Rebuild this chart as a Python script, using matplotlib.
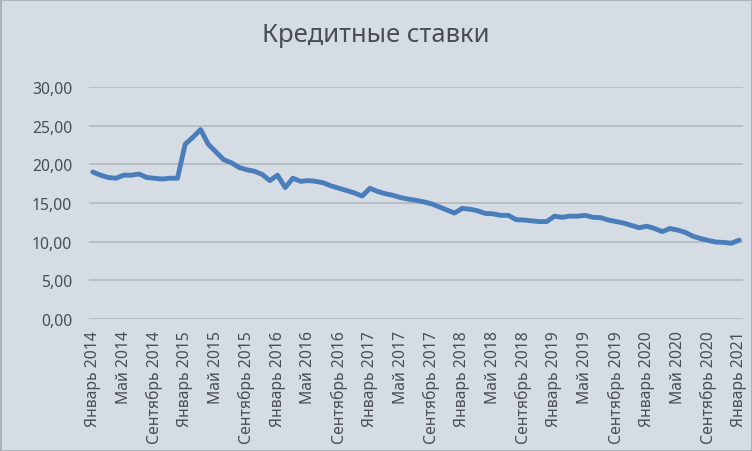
import matplotlib
matplotlib.use('Agg')
import matplotlib.pyplot as plt
import numpy as np

# Кредитные ставки, помесячно с января 2014 по январь 2021
rates = [
    19.0, 18.6, 18.3, 18.2, 18.6, 18.6, 18.75, 18.3, 18.2, 18.1, 18.2, 18.2,
    22.6, 23.5, 24.5, 22.6, 21.6, 20.6, 20.2, 19.6, 19.3, 19.1, 18.7, 17.9,
    18.6, 17.0, 18.2, 17.8, 17.9, 17.8, 17.6, 17.2, 16.9, 16.6, 16.3, 15.9,
    16.9, 16.5, 16.2, 16.0, 15.7, 15.5, 15.35, 15.15, 14.9, 14.5, 14.1, 13.7,
    14.3, 14.2, 14.0, 13.65, 13.6, 13.4, 13.4, 12.85, 12.8, 12.7, 12.6, 12.6,
    13.3, 13.15, 13.3, 13.3, 13.4, 13.15, 13.1, 12.8, 12.6, 12.4, 12.1, 11.8,
    12.0, 11.7, 11.3, 11.7, 11.5, 11.2, 10.7, 10.4, 10.15, 9.95, 9.9, 9.8,
    10.2,
]
months = ['Январь', 'Май', 'Сентябрь']
years = list(range(2014, 2022))
tick_labels = [f'{m} {y}' for y in years for m in months][:22]
yticks = [0, 5, 10, 15, 20, 25, 30]

bg = '#D6DCE4'
txt = '#4A4D52'
plt.rcParams['font.family'] = ['Noto Sans', 'DejaVu Sans']

fig = plt.figure(figsize=(7.52, 4.52), dpi=100, facecolor=bg,
                 edgecolor='#ADB3BB', linewidth=2)
ax = fig.add_axes([89 / 752, 1 - 320 / 452, (743 - 89) / 752, (320 - 88) / 452])
ax.set_facecolor(bg)

x = np.arange(len(rates))
ax.plot(x, rates, color='#4A7EBB', linewidth=3.5, solid_joinstyle='round',
        solid_capstyle='round', zorder=3)

ax.set_xlim(-0.5, len(rates) - 0.5)
ax.set_ylim(0, 30)
ax.set_yticks(yticks)
ax.set_yticklabels([f'{v:.2f}'.replace('.', ',') for v in yticks])
ax.set_xticks(x[::4])
ax.set_xticklabels(tick_labels, rotation=90)
ax.tick_params(axis='both', length=0, labelsize=11.3, labelcolor=txt)
ax.tick_params(axis='y', pad=12)
ax.tick_params(axis='x', pad=8)
ax.grid(axis='y', color='#B4B8BE', linewidth=1.2)
ax.set_axisbelow(True)
for s in ax.spines.values():
    s.set_visible(False)

fig.text(0.5, 1 - 36 / 452, 'Кредитные ставки', ha='center', va='center',
         fontsize=18.5, color=txt)

fig.savefig('out.png', dpi=100, facecolor=bg, edgecolor='#ADB3BB')
